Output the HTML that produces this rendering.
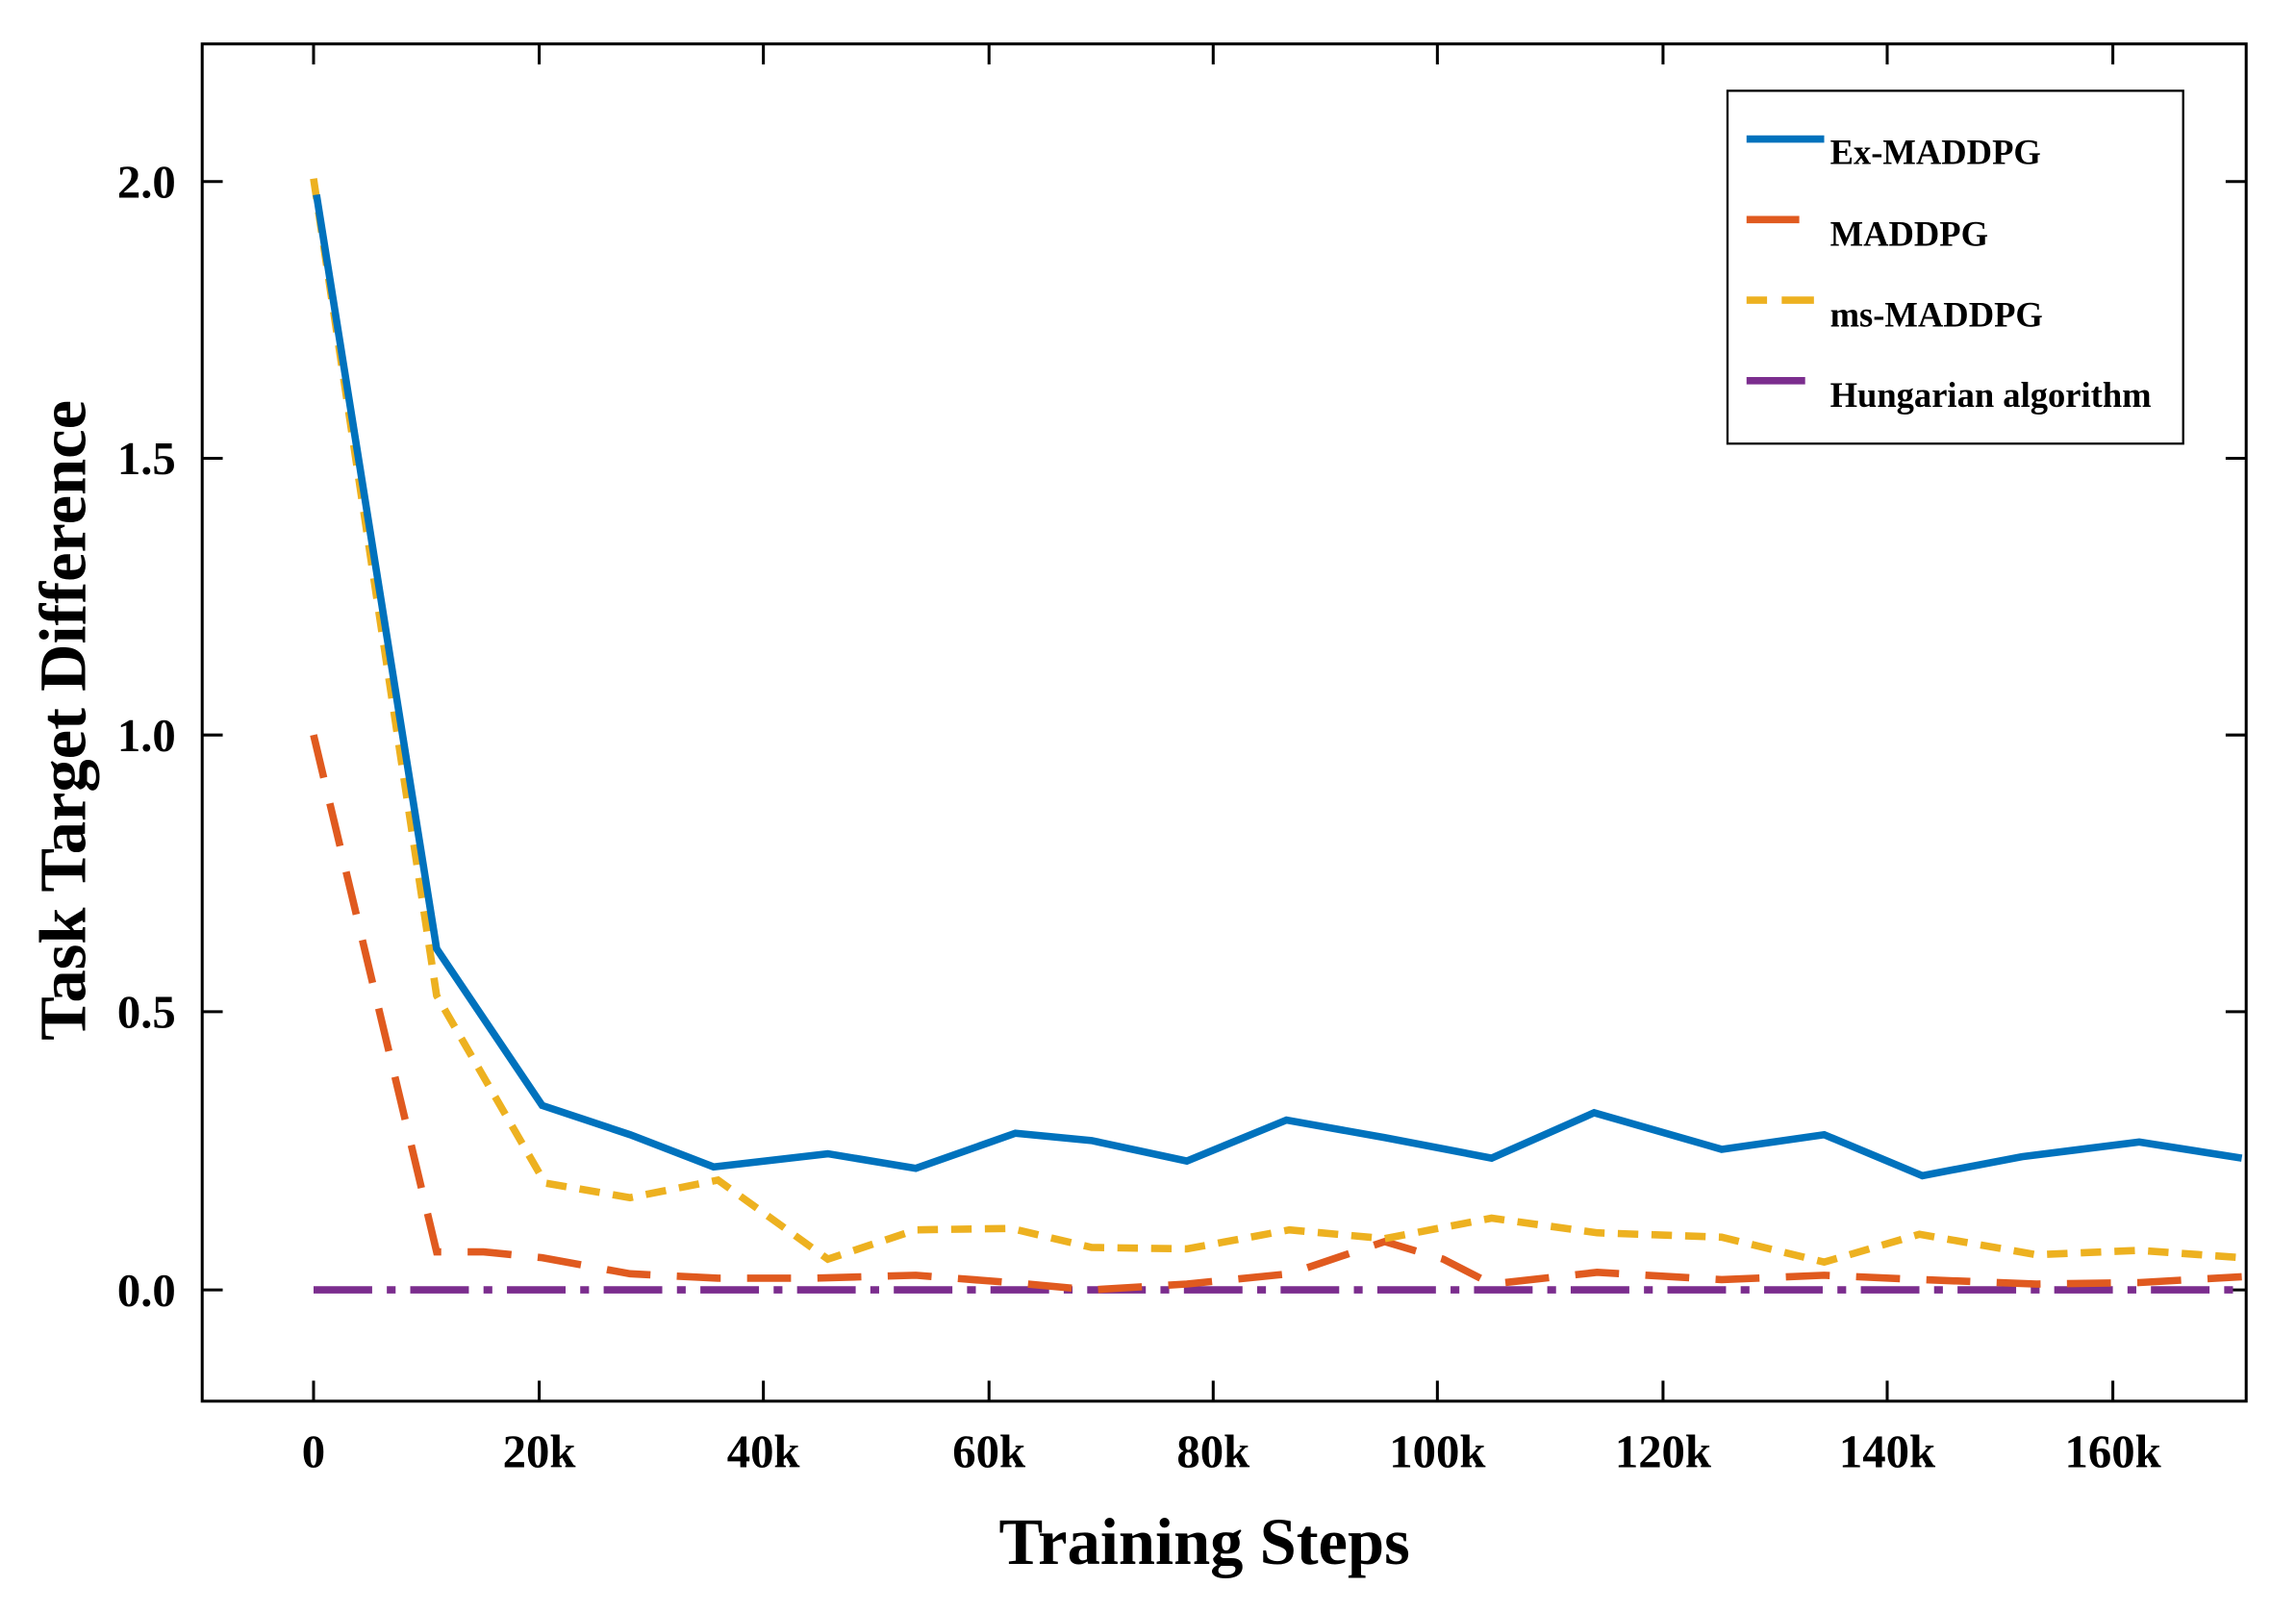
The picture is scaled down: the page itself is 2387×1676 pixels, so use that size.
<!DOCTYPE html>
<html><head><style>html,body{margin:0;padding:0;background:#fff}svg{display:block}</style></head>
<body>
<svg width="2387" height="1676" viewBox="0 0 1567 1101" preserveAspectRatio="none" xmlns="http://www.w3.org/2000/svg" font-family="Liberation Serif, serif" font-weight="bold">
<rect x="138" y="30" width="1395" height="927" fill="none" stroke="#000" stroke-width="2"/>
<g stroke="#000" stroke-width="2">
<line x1="214" y1="30" x2="214" y2="44"/><line x1="368" y1="30" x2="368" y2="44"/><line x1="521" y1="30" x2="521" y2="44"/><line x1="675" y1="30" x2="675" y2="44"/><line x1="828" y1="30" x2="828" y2="44"/><line x1="981" y1="30" x2="981" y2="44"/><line x1="1135" y1="30" x2="1135" y2="44"/><line x1="1288" y1="30" x2="1288" y2="44"/><line x1="1442" y1="30" x2="1442" y2="44"/>
<line x1="214" y1="957" x2="214" y2="943"/><line x1="368" y1="957" x2="368" y2="943"/><line x1="521" y1="957" x2="521" y2="943"/><line x1="675" y1="957" x2="675" y2="943"/><line x1="828" y1="957" x2="828" y2="943"/><line x1="981" y1="957" x2="981" y2="943"/><line x1="1135" y1="957" x2="1135" y2="943"/><line x1="1288" y1="957" x2="1288" y2="943"/><line x1="1442" y1="957" x2="1442" y2="943"/>
<line x1="138" y1="124" x2="152" y2="124"/><line x1="138" y1="313" x2="152" y2="313"/><line x1="138" y1="502" x2="152" y2="502"/><line x1="138" y1="691" x2="152" y2="691"/><line x1="138" y1="881" x2="152" y2="881"/>
<line x1="1533" y1="124" x2="1519" y2="124"/><line x1="1533" y1="313" x2="1519" y2="313"/><line x1="1533" y1="502" x2="1519" y2="502"/><line x1="1533" y1="691" x2="1519" y2="691"/><line x1="1533" y1="881" x2="1519" y2="881"/>
</g>
<g font-size="32" text-anchor="end">
<text x="120" y="135">2.0</text><text x="120" y="324">1.5</text><text x="120" y="513">1.0</text><text x="120" y="702">0.5</text><text x="120" y="892">0.0</text>
</g>
<g font-size="32" text-anchor="middle">
<text x="214" y="1002">0</text><text x="368" y="1002">20k</text><text x="521" y="1002">40k</text><text x="675" y="1002">60k</text><text x="828" y="1002">80k</text><text x="981" y="1002">100k</text><text x="1135" y="1002">120k</text><text x="1288" y="1002">140k</text><text x="1442" y="1002">160k</text>
</g>
<text x="822" y="1068" font-size="45" text-anchor="middle">Training Steps</text>
<text transform="translate(58,492) rotate(-90)" font-size="45" text-anchor="middle">Task Target Difference</text>
<g fill="none" stroke-width="5">
<polyline stroke="#7b2d8e" stroke-dasharray="40,10,6,10" points="214,881 1530,881"/>
<polyline stroke="#e05a1f" stroke-dasharray="30,18" points="214,502 298,855 330,855 370,859 430,870 490,873 555,873 625,871 690,876 745,881 810,877 880,870 945,848 985,860 1018,877 1090,869 1175,874 1245,871 1312,874 1390,877 1460,876 1530,872"/>
<polyline stroke="#edb120" stroke-dasharray="14,9" points="214,122 298,680 372,808 430,818 490,806 565,860 625,840 690,839 745,852 810,853 880,840 945,846 1018,832 1090,842 1175,845 1245,862 1310,843 1390,857 1460,854 1530,859"/>
<polyline stroke="#0072bd" points="216,133 298,648 370,755 430,775 487,797 565,788 625,798 693,774 745,779 810,793 878,765 945,777 1018,791 1088,760 1175,785 1245,775 1312,803 1380,790 1460,780 1530,791"/>
</g>
<rect x="1179" y="62" width="311" height="241" fill="#fff" stroke="#000" stroke-width="1.5"/>
<g stroke-width="5">
<line x1="1192" y1="95" x2="1245" y2="95" stroke="#0072bd"/>
<line x1="1192" y1="150" x2="1228" y2="150" stroke="#e05a1f"/>
<line x1="1192" y1="205" x2="1206" y2="205" stroke="#edb120"/><line x1="1216" y1="205" x2="1238" y2="205" stroke="#edb120"/>
<line x1="1192" y1="260" x2="1232" y2="260" stroke="#7b2d8e"/>
</g>
<g font-size="24">
<text x="1249" y="112">Ex-MADDPG</text><text x="1249" y="168">MADDPG</text><text x="1249" y="223">ms-MADDPG</text><text x="1249" y="278">Hungarian algorithm</text>
</g>
</svg>
</body></html>
